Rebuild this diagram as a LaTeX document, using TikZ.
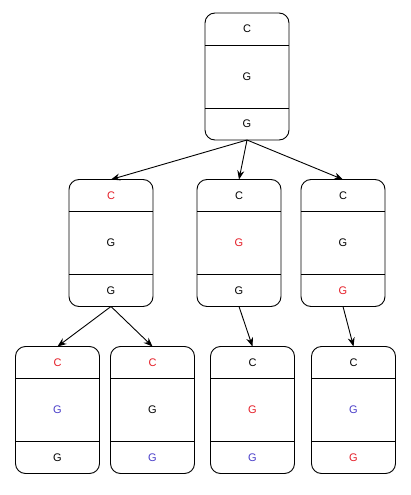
\documentclass[tikz,border=0pt]{standalone}
\usepackage{fontspec}
\setmainfont{Liberation Sans}
\usetikzlibrary{positioning,arrows.meta}
\definecolor{genered}{RGB}{228,28,38}
\definecolor{geneblue}{RGB}{72,60,200}

\tikzset{
  block/.style={draw, line width=0.9pt, rounded corners=10pt, minimum width=84pt,
    minimum height=127pt, outer sep=0pt, inner sep=0pt},
  gene/.style={inner sep=1pt, font=\fontsize{11}{13}\selectfont}
}

% name, center x, center y, top, middle, bottom
\newcommand{\geneblock}[6]{%
  \node[block] (#1) at (#2,#3) {};
  \draw[line width=0.9pt] ([yshift=-32pt]#1.north west) -- ([yshift=-32pt]#1.north east);
  \draw[line width=0.9pt] ([yshift=32pt]#1.south west) -- ([yshift=32pt]#1.south east);
  \node (#1-top) at ([yshift=-16pt]#1.north) {#4};
  \node (#1-mid) at (#1.center) {#5};
  \node (#1-bot) at ([yshift=16pt]#1.south) {#6};
}

\begin{document}
\begin{tikzpicture}[x=1pt, y=-1pt, >={Stealth[length=9pt,width=7pt,inset=3pt]},
    every node/.append style={gene}]
  \useasboundingbox (0,0) rectangle (411,495);

  \geneblock{root}{247}{76.5}{C}{G}{G}

  \geneblock{left}{111}{243}{\textcolor{genered}{C}}{G}{G}
  \geneblock{mid}{239}{243}{C}{\textcolor{genered}{G}}{G}
  \geneblock{right}{343}{243}{C}{G}{\textcolor{genered}{G}}

  \geneblock{leftA}{57.5}{410}{\textcolor{genered}{C}}{\textcolor{geneblue}{G}}{G}
  \geneblock{leftB}{152.5}{410}{\textcolor{genered}{C}}{G}{\textcolor{geneblue}{G}}
  \geneblock{midA}{252.5}{410}{C}{\textcolor{genered}{G}}{\textcolor{geneblue}{G}}
  \geneblock{rightA}{353.5}{410}{C}{\textcolor{geneblue}{G}}{\textcolor{genered}{G}}

  \path [->, line width=0.9pt] (root.south) edge (left.north)
  (root.south) edge (mid.north)
  (root.south) edge (right.north)
  (left.south) edge (leftA.north)
  (left.south) edge (leftB.north)
  (mid.south) edge (midA.north)
  (right.south) edge (rightA.north);
\end{tikzpicture}
\end{document}
